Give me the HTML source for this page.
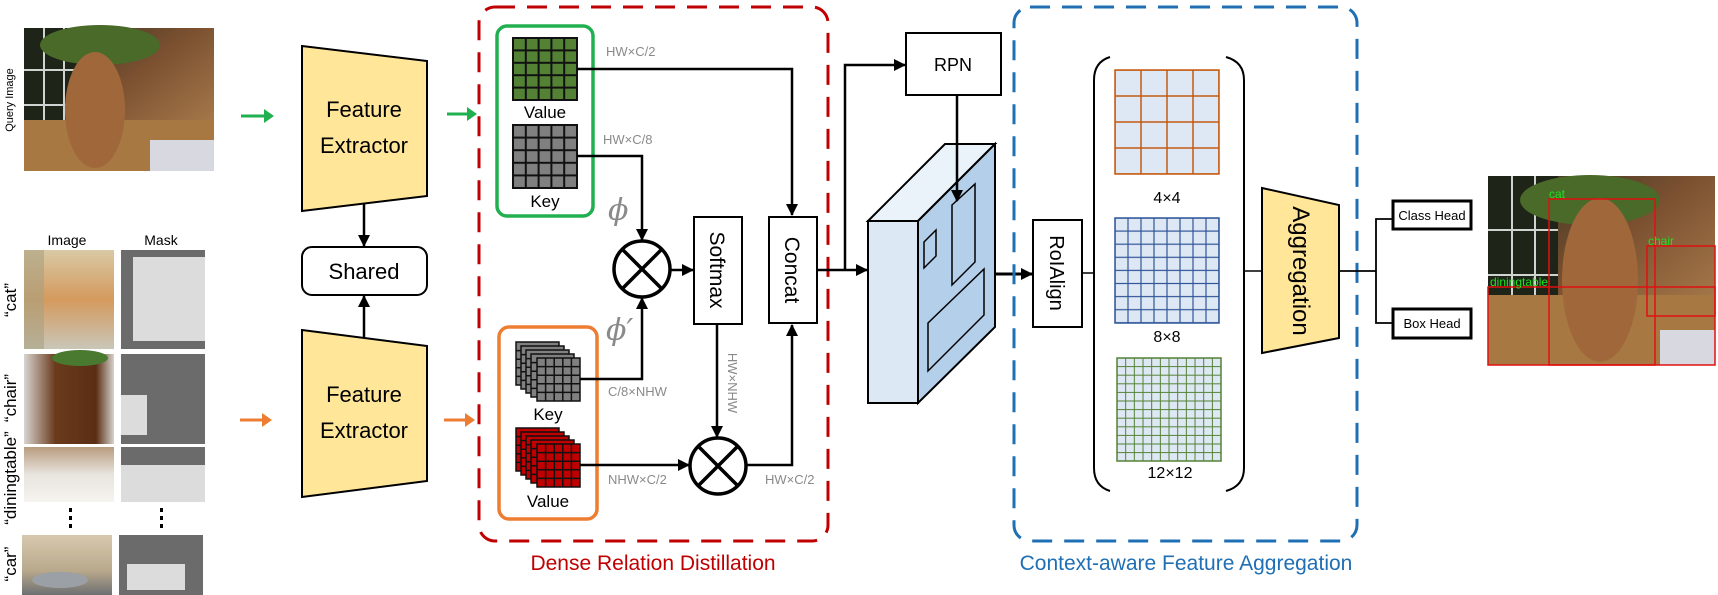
<!DOCTYPE html>
<html><head><meta charset="utf-8"><style>
html,body{margin:0;padding:0;background:#fff;}
svg{display:block;font-family:"Liberation Sans",Arial,sans-serif;}
</style></head><body>
<svg width="1718" height="595" viewBox="0 0 1718 595" xmlns="http://www.w3.org/2000/svg">
<defs>
<marker id="ahb" markerWidth="12" markerHeight="12" refX="11" refY="6" orient="auto" markerUnits="userSpaceOnUse" viewBox="0 0 12 12"><path d="M0,0 L12,6 L0,12 z" fill="#000"/></marker>
<pattern id="g5" x="513" y="38" width="12.8" height="12.4" patternUnits="userSpaceOnUse"><rect width="12.8" height="12.4" fill="#548235" stroke="#111" stroke-width="2"/></pattern>
<pattern id="k5" x="513" y="125" width="12.8" height="12.6" patternUnits="userSpaceOnUse"><rect width="12.8" height="12.6" fill="#808080" stroke="#111" stroke-width="2"/></pattern>
<pattern id="p4" x="1115" y="70" width="26" height="26" patternUnits="userSpaceOnUse"><rect width="26" height="26" fill="#dde8f4" stroke="#c55a11" stroke-width="1.5"/></pattern>
<pattern id="p8" x="1115" y="218" width="13" height="13.1" patternUnits="userSpaceOnUse"><rect width="13" height="13.1" fill="#dde8f4" stroke="#2f5597" stroke-width="1.2"/></pattern>
<pattern id="p12" x="1117" y="358" width="8.67" height="8.6" patternUnits="userSpaceOnUse"><rect width="8.67" height="8.6" fill="#dde8f4" stroke="#548235" stroke-width="1"/></pattern>
<linearGradient id="catq" x1="0" y1="0" x2="1" y2="1"><stop offset="0" stop-color="#2f3020"/><stop offset="0.45" stop-color="#7a5030"/><stop offset="1" stop-color="#b98a55"/></linearGradient>
<linearGradient id="kit" x1="0" y1="0" x2="0" y2="1"><stop offset="0" stop-color="#d9c9a5"/><stop offset="0.5" stop-color="#d49a5e"/><stop offset="1" stop-color="#c9c6b8"/></linearGradient>
<linearGradient id="chr" x1="0" y1="0" x2="1" y2="0"><stop offset="0" stop-color="#d8d4d0"/><stop offset="0.35" stop-color="#6a3a1c"/><stop offset="0.8" stop-color="#5a2e14"/><stop offset="1" stop-color="#d6d2cc"/></linearGradient>
<linearGradient id="din" x1="0" y1="0" x2="0" y2="1"><stop offset="0" stop-color="#b89c80"/><stop offset="0.5" stop-color="#e8e4de"/><stop offset="1" stop-color="#f6f4f0"/></linearGradient>
<linearGradient id="car" x1="0" y1="0" x2="0" y2="1"><stop offset="0" stop-color="#d8c9ae"/><stop offset="0.6" stop-color="#b8a88c"/><stop offset="1" stop-color="#6d6f72"/></linearGradient>
</defs>

<!-- Query image -->
<rect x="24" y="28" width="190" height="143" fill="url(#catq)"/>
<rect x="24" y="28" width="60" height="110" fill="#1e2418"/>
<g stroke="#cfd4d0" stroke-width="2"><line x1="44" y1="28" x2="44" y2="138"/><line x1="64" y1="28" x2="64" y2="138"/><line x1="24" y1="70" x2="84" y2="70"/><line x1="24" y1="105" x2="84" y2="105"/></g>
<ellipse cx="100" cy="45" rx="60" ry="20" fill="#4a6a2a"/>
<rect x="24" y="120" width="190" height="51" fill="#a87842"/>
<ellipse cx="95" cy="110" rx="30" ry="58" fill="#a0683a"/>
<rect x="150" y="140" width="64" height="31" fill="#d8d8e0"/>
<text transform="translate(13,100) rotate(-90)" font-size="11" text-anchor="middle" fill="#000">Query Image</text>

<!-- Support images -->
<text x="67" y="245" font-size="14" text-anchor="middle">Image</text>
<text x="161" y="245" font-size="14" text-anchor="middle">Mask</text>
<rect x="24" y="250" width="90" height="99" fill="url(#kit)"/>
<rect x="24" y="250" width="20" height="99" fill="#a8a080" opacity="0.6"/>
<rect x="121" y="250" width="84" height="99" fill="#6b6b6b"/><rect x="133" y="257" width="72" height="84" fill="#dcdcdc"/>
<rect x="24" y="354" width="90" height="90" fill="url(#chr)"/>
<ellipse cx="80" cy="358" rx="28" ry="8" fill="#4a7a30"/>
<rect x="121" y="354" width="84" height="90" fill="#6b6b6b"/><rect x="121" y="395" width="26" height="40" fill="#dcdcdc"/>
<rect x="24" y="447" width="90" height="55" fill="url(#din)"/>
<rect x="121" y="447" width="84" height="55" fill="#dcdcdc"/><rect x="121" y="447" width="84" height="18" fill="#6b6b6b"/>
<g fill="#000"><rect x="69" y="508" width="3" height="4"/><rect x="69" y="516" width="3" height="4"/><rect x="69" y="524" width="3" height="4"/>
<rect x="160" y="508" width="3" height="4"/><rect x="160" y="516" width="3" height="4"/><rect x="160" y="524" width="3" height="4"/></g>
<rect x="22" y="535" width="90" height="60" fill="url(#car)"/>
<ellipse cx="60" cy="580" rx="28" ry="8" fill="#9aa0a6"/>
<rect x="119" y="535" width="84" height="60" fill="#6b6b6b"/><rect x="127" y="564" width="58" height="26" fill="#dcdcdc"/>
<g font-size="17" text-anchor="middle" fill="#000">
<text transform="translate(16,300) rotate(-90)">“cat”</text>
<text transform="translate(16,398) rotate(-90)">“chair”</text>
<text transform="translate(16,478) rotate(-90)">“diningtable”</text>
<text transform="translate(16,564) rotate(-90)">“car”</text>
</g>

<!-- arrows in -->
<g stroke-width="3" fill="none">
<line x1="241" y1="116" x2="266" y2="116" stroke="#21b050"/><path d="M264,109 L274,116 L264,123 z" fill="#21b050" stroke="none"/>
<line x1="447" y1="114" x2="469" y2="114" stroke="#21b050"/><path d="M467,107 L477,114 L467,121 z" fill="#21b050" stroke="none"/>
<line x1="240" y1="420" x2="264" y2="420" stroke="#ed7d31"/><path d="M262,413 L272,420 L262,427 z" fill="#ed7d31" stroke="none"/>
<line x1="444" y1="420" x2="467" y2="420" stroke="#ed7d31"/><path d="M465,413 L475,420 L465,427 z" fill="#ed7d31" stroke="none"/>
</g>

<!-- Feature extractors -->
<polygon points="302,46 427,61 427,196 302,211" fill="#ffe699" stroke="#000" stroke-width="2"/>
<text x="364" y="117" font-size="22" text-anchor="middle">Feature</text>
<text x="364" y="153" font-size="22" text-anchor="middle">Extractor</text>
<polygon points="302,330 427,346 427,481 302,497" fill="#ffe699" stroke="#000" stroke-width="2"/>
<text x="364" y="402" font-size="22" text-anchor="middle">Feature</text>
<text x="364" y="438" font-size="22" text-anchor="middle">Extractor</text>
<rect x="302" y="247" width="125" height="48" rx="10" fill="#fff" stroke="#000" stroke-width="2"/>
<text x="364" y="279" font-size="22" text-anchor="middle">Shared</text>
<line x1="364" y1="204" x2="364" y2="246" stroke="#000" stroke-width="2.5" marker-end="url(#ahb)"/>
<line x1="364" y1="338" x2="364" y2="296" stroke="#000" stroke-width="2.5" marker-end="url(#ahb)"/>

<!-- Dense relation box -->
<rect x="479" y="7" width="349" height="534" rx="16" fill="none" stroke="#c00000" stroke-width="3" stroke-dasharray="20,12"/>
<text x="653" y="570" font-size="21" text-anchor="middle" fill="#c00000">Dense Relation Distillation</text>

<rect x="497" y="26" width="96" height="190" rx="10" fill="none" stroke="#21b050" stroke-width="3.5"/>
<rect x="513" y="38" width="64" height="62" fill="url(#g5)" stroke="#111" stroke-width="2"/>
<text x="545" y="118" font-size="17" text-anchor="middle">Value</text>
<rect x="513" y="125" width="64" height="63" fill="url(#k5)" stroke="#111" stroke-width="2"/>
<text x="545" y="207" font-size="17" text-anchor="middle">Key</text>

<rect x="499" y="327" width="98" height="192" rx="10" fill="none" stroke="#ed7d31" stroke-width="3.5"/>
<g stroke="#111" stroke-width="1.5">
<g fill="#808080">
<rect x="516" y="342" width="43" height="43"/><rect x="521" y="346" width="43" height="43"/><rect x="526" y="350" width="43" height="43"/><rect x="531" y="354" width="43" height="43"/><rect x="537" y="358" width="43" height="43"/>
</g>
<path d="M545.6,358V401M554.2,358V401M562.8,358V401M571.4,358V401M537,366.6H580M537,375.2H580M537,383.8H580M537,392.4H580" fill="none"/>
<path d="M516,350.6H521M516,359.2H521M516,367.8H521M516,376.4H521M521,354.6H526M521,363.2H526M521,371.8H526M521,380.4H526M526,358.6H531M526,367.2H531M526,375.8H531M526,384.4H531M531,362.6H537M531,371.2H537M531,379.8H537M531,388.4H537"/>
<g fill="#c00000">
<rect x="516" y="428" width="43" height="43"/><rect x="521" y="432" width="43" height="43"/><rect x="526" y="436" width="43" height="43"/><rect x="531" y="440" width="43" height="43"/><rect x="537" y="444" width="43" height="43"/>
</g>
<path d="M545.6,444V487M554.2,444V487M562.8,444V487M571.4,444V487M537,452.6H580M537,461.2H580M537,469.8H580M537,478.4H580" fill="none"/>
<path d="M516,436.6H521M516,445.2H521M516,453.8H521M516,462.4H521M521,440.6H526M521,449.2H526M521,457.8H526M521,466.4H526M526,444.6H531M526,453.2H531M526,461.8H531M526,470.4H531M531,448.6H537M531,457.2H537M531,465.8H537M531,474.4H537"/>
</g>
<text x="548" y="420" font-size="17" text-anchor="middle">Key</text>
<text x="548" y="507" font-size="17" text-anchor="middle">Value</text>

<g font-size="13" fill="#8a8a8a">
<text x="606" y="56">HW×C/2</text>
<text x="603" y="144">HW×C/8</text>
<text x="608" y="396">C/8×NHW</text>
<text x="608" y="484">NHW×C/2</text>
<text x="765" y="484">HW×C/2</text>
<text transform="translate(728,383) rotate(90)" text-anchor="middle">HW×NHW</text>
</g>
<text x="608" y="220" font-size="30" font-style="italic" fill="#8a8a8a" font-family="'DejaVu Serif',serif">ϕ</text>
<text x="606" y="340" font-size="30" font-style="italic" fill="#8a8a8a" font-family="'DejaVu Serif',serif">ϕ′</text>

<!-- connectors -->
<g stroke="#000" stroke-width="2.5" fill="none">
<polyline points="577,69 792,69 792,215" marker-end="url(#ahb)"/>
<polyline points="577,156 642,156 642,240" marker-end="url(#ahb)"/>
<polyline points="580,379 642,379 642,298" marker-end="url(#ahb)"/>
<line x1="670" y1="270" x2="693" y2="270" marker-end="url(#ahb)"/>
<line x1="580" y1="465" x2="689" y2="465" marker-end="url(#ahb)"/>
<line x1="717" y1="324" x2="717" y2="437" marker-end="url(#ahb)"/>
<polyline points="746,465 792,465 792,325" marker-end="url(#ahb)"/>
<polyline points="817,270 867,270" marker-end="url(#ahb)"/>
<polyline points="845,270 845,65 905,65" marker-end="url(#ahb)"/>
</g>
<g stroke="#000" stroke-width="3.5" fill="#fff">
<circle cx="642" cy="269" r="28"/>
<circle cx="718" cy="466" r="28"/>
</g>
<g stroke="#000" stroke-width="3.5">
<line x1="622" y1="249" x2="662" y2="289"/><line x1="662" y1="249" x2="622" y2="289"/>
<line x1="698" y1="446" x2="738" y2="486"/><line x1="738" y1="446" x2="698" y2="486"/>
</g>
<rect x="694" y="217" width="48" height="107" fill="#fff" stroke="#000" stroke-width="2"/>
<text transform="translate(710,270) rotate(90)" font-size="21" text-anchor="middle">Softmax</text>
<rect x="769" y="217" width="48" height="106" fill="#fff" stroke="#000" stroke-width="2"/>
<text transform="translate(785,270) rotate(90)" font-size="21" text-anchor="middle">Concat</text>

<!-- RPN + 3D feature map -->
<rect x="906" y="33" width="95" height="62" fill="#fff" stroke="#000" stroke-width="2"/>
<text x="953" y="71" font-size="18" text-anchor="middle">RPN</text>
<polygon points="868,221 945,144 995,144 918,221" fill="#eaf2fa" stroke="#000" stroke-width="2"/>
<polygon points="918,221 995,144 995,327 918,403" fill="#b4cfea" stroke="#000" stroke-width="2"/>
<rect x="868" y="221" width="50" height="182" fill="#dce9f5" stroke="#000" stroke-width="2"/>
<g fill="none" stroke="#000" stroke-width="1.5">
<polygon points="924,242 936,230 936,256 924,268"/>
<polygon points="952,205 975,184 975,262 952,285"/>
<polygon points="928,323 984,269 984,315 928,371"/>
</g>
<line x1="957" y1="95" x2="957" y2="201" stroke="#000" stroke-width="2.5" marker-end="url(#ahb)"/>
<line x1="995" y1="274" x2="1032" y2="274" stroke="#000" stroke-width="3" marker-end="url(#ahb)"/>

<!-- Context aware box -->
<rect x="1014" y="7" width="343" height="534" rx="16" fill="none" stroke="#1f6fb5" stroke-width="3" stroke-dasharray="20,12"/>
<text x="1186" y="570" font-size="21" text-anchor="middle" fill="#1f6fb5">Context-aware Feature Aggregation</text>

<rect x="1033" y="220" width="49" height="107" fill="#fff" stroke="#000" stroke-width="2"/>
<text transform="translate(1050,273) rotate(90)" font-size="20" text-anchor="middle">RoIAlign</text>
<line x1="1082" y1="273" x2="1094" y2="273" stroke="#000" stroke-width="1.5"/>
<g fill="none" stroke="#000" stroke-width="2">
<path d="M1110,57 Q1094,62 1094,80 L1094,468 Q1094,486 1110,491"/>
<path d="M1226,57 Q1244,62 1244,80 L1244,468 Q1244,486 1226,491"/>
</g>
<rect x="1115" y="70" width="104" height="104" fill="url(#p4)" stroke="#c55a11" stroke-width="1.5"/>
<text x="1167" y="203" font-size="16" text-anchor="middle">4×4</text>
<rect x="1115" y="218" width="104" height="105" fill="url(#p8)" stroke="#2f5597" stroke-width="1.5"/>
<text x="1167" y="342" font-size="16" text-anchor="middle">8×8</text>
<rect x="1117" y="358" width="104" height="103" fill="url(#p12)" stroke="#548235" stroke-width="1.5"/>
<text x="1170" y="478" font-size="16" text-anchor="middle">12×12</text>
<line x1="1244" y1="271" x2="1262" y2="271" stroke="#000" stroke-width="1.5"/>
<polygon points="1262,188 1339,205 1339,338 1262,353" fill="#ffe699" stroke="#000" stroke-width="2"/>
<text transform="translate(1293,271) rotate(90)" font-size="24" text-anchor="middle">Aggregation</text>
<g stroke="#000" stroke-width="1.8" fill="none">
<line x1="1339" y1="271" x2="1376" y2="271"/>
<polyline points="1393,219 1376,219 1376,323 1393,323"/>
</g>
<rect x="1393" y="201" width="78" height="28" fill="#fff" stroke="#000" stroke-width="3"/>
<text x="1432" y="220" font-size="13" text-anchor="middle">Class Head</text>
<rect x="1393" y="309" width="78" height="29" fill="#fff" stroke="#000" stroke-width="3"/>
<text x="1432" y="328" font-size="13" text-anchor="middle">Box Head</text>

<!-- output image -->
<rect x="1488" y="176" width="227" height="189" fill="url(#catq)"/>
<rect x="1488" y="176" width="70" height="140" fill="#1e2418"/>
<g stroke="#cfd4d0" stroke-width="2"><line x1="1512" y1="176" x2="1512" y2="316"/><line x1="1535" y1="176" x2="1535" y2="316"/><line x1="1488" y1="230" x2="1558" y2="230"/><line x1="1488" y1="275" x2="1558" y2="275"/></g>
<ellipse cx="1590" cy="200" rx="70" ry="25" fill="#4a6a2a"/>
<rect x="1488" y="295" width="227" height="70" fill="#a87842"/>
<ellipse cx="1600" cy="280" rx="38" ry="82" fill="#a0683a"/>
<rect x="1660" y="330" width="55" height="35" fill="#d8d8e0"/>
<g fill="none" stroke="#e01010" stroke-width="1.5">
<rect x="1549" y="199" width="106" height="166"/>
<rect x="1647" y="246" width="68" height="70"/>
<rect x="1488" y="287" width="227" height="78"/>
</g>
<g font-size="12" fill="#20e020">
<text x="1549" y="198">cat</text>
<text x="1648" y="245">chair</text>
<text x="1490" y="286">diningtable</text>
</g>
</svg>
</body></html>
